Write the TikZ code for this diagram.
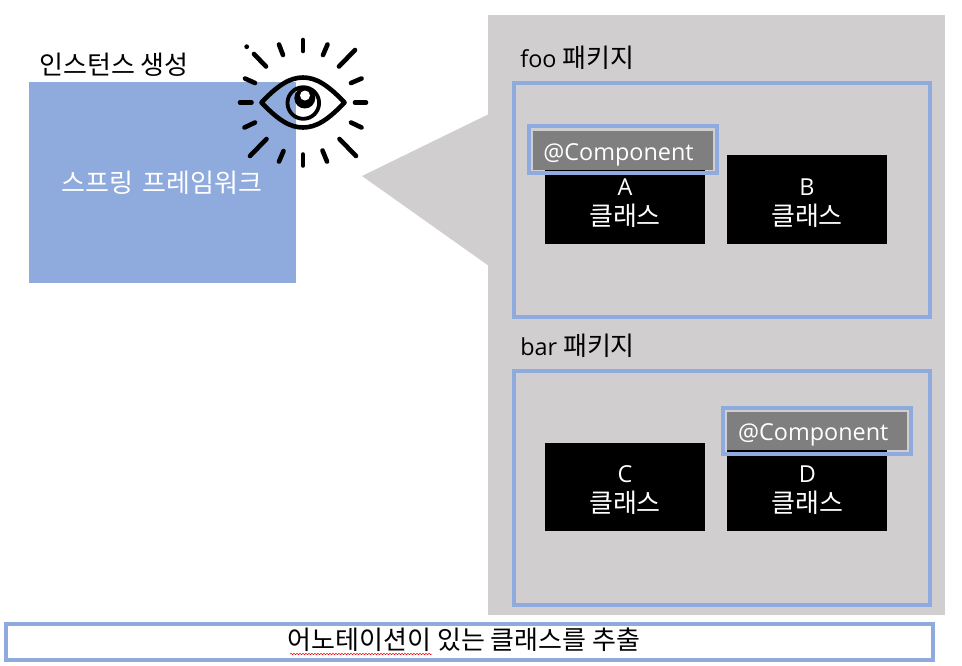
\documentclass[tikz,border=0pt]{standalone}
\usepackage{fontspec}
\setmainfont{Noto Sans CJK KR}
\newfontfamily\latinfont{Open Sans}
\newcommand{\latintext}{\latinfont\fontsize{23.4}{30}\selectfont}
\usetikzlibrary{decorations.pathmorphing}
\definecolor{panelblue}{RGB}{143,170,220}
\definecolor{panelgray}{RGB}{208,206,206}
\definecolor{tagfill}{RGB}{127,127,127}
\tikzset{every picture/.style={line width=0.75pt},
  pkgbox/.style={draw=panelblue,line width=4pt},
  classbox/.style={fill=black},
  tagbox/.style={fill=tagfill},
  rayline/.style={line width=4.6pt,line cap=round},
  labeltext/.style={font=\fontsize{26}{30}\selectfont,inner sep=0pt},
  whitetext/.style={labeltext,text=white,align=center},
  tagtext/.style={whitetext,font=\latintext}}

\begin{document}
\begin{tikzpicture}[x=1pt,y=1pt,yscale=-1,xscale=1]
	\useasboundingbox (0,0) rectangle (962,665);

	%Shape: Rectangle [framework]
	\fill [panelblue] (29,82) rectangle (296,283);
	%Shape: Rectangle [panel]
	\fill [panelgray] (488,15) rectangle (945,615);
	%Shape: Triangle [callout]
	\fill [panelgray] (489,114) -- (362,176) -- (489,266) -- cycle;
	%Shape: Rectangle [packages]
	\draw [pkgbox] (513.5,82.5) rectangle (930,317);
	\draw [pkgbox] (513.5,370.5) rectangle (930,605);
	%Shape: Rectangle [classes]
	\fill [classbox] (545,155) rectangle (705,244);
	\fill [classbox] (727,155) rectangle (887,244);
	\fill [classbox] (545,443) rectangle (705,531);
	\fill [classbox] (727,443) rectangle (887,531);
	%Shape: Rectangle [tags]
	\fill [panelgray] (528,126) rectangle (717,170);
	\fill [tagbox] (533,131) rectangle (713,170);
	\draw [pkgbox] (528.7,126) rectangle (717,173);
	\fill [panelgray] (723,408) rectangle (911,450);
	\fill [tagbox] (727,412) rectangle (907,450);
	\draw [pkgbox] (723,408) rectangle (910.7,454);
	%Shape: Rectangle [result]
	\draw [pkgbox] (6,623.5) rectangle (932.5,660);
	%Shape: Squiggle [spelling mark]
	\draw [red,line width=0.5pt,decorate,decoration={snake,amplitude=0.7pt,segment length=3pt}] (290,654) -- (432,654);

	%Shape: Eye
	\draw [line width=4.6pt,line join=round] (261.5,102.5) .. controls (278,85) and (290,77.5) .. (303,77.5) .. controls (316,77.5) and (328,85) .. (344.5,102.5) .. controls (328,120) and (316,127.5) .. (303,127.5) .. controls (290,127.5) and (278,120) .. (261.5,102.5) -- cycle;
	\draw [line width=3.8pt] (303.3,103) circle (15.8);
	\fill (304.8,98) circle (10.5);
	\fill [white] (305,95.5) circle (5);
	%Shape: Rays
	\draw [rayline] (303,40) -- (303,51);
	\draw [rayline] (279,44.5) -- (283,55);
	\draw [rayline] (327.5,44.5) -- (323,55);
	\draw [rayline] (254,54) -- (266,66.5);
	\draw [rayline] (355,50) -- (339,66.5);
	\draw [rayline] (245,78.5) -- (255,83);
	\draw [rayline] (361.5,78.5) -- (351,83);
	\draw [rayline] (240,102.5) -- (251.5,102.5);
	\draw [rayline] (355,102.5) -- (366,102.5);
	\draw [rayline] (244.5,127.5) -- (255,122.5);
	\draw [rayline] (361.5,127.5) -- (351,122.5);
	\draw [rayline] (250,156) -- (266.5,139);
	\draw [rayline] (356,156) -- (339.5,139);
	\draw [rayline] (279,161.5) -- (283.5,151);
	\draw [rayline] (327,161.5) -- (322.5,150.5);
	\draw [rayline] (303,154.5) -- (303,165.5);
	\fill (246.7,46.7) circle (2.4);

	% Text Node
	\node [labeltext] (create) at (114,65) {인스턴스 생성};
	% Text Node
	\node [whitetext] (framework) at (162,182.5) {스프링\hspace{3pt} 프레임워크};
	% Text Node
	\node [labeltext,anchor=west] (foolabel) at (520,58) {{\latintext foo} 패키지};
	% Text Node
	\node [labeltext,anchor=west] (barlabel) at (520,346) {{\latintext bar} 패키지};
	% Text Node
	\node [tagtext] (tagfoo) at (618.5,155) {@Component};
	% Text Node
	\node [tagtext] (tagbar) at (813.3,434.5) {@Component};
	% Text Node
	\node [whitetext] (classa) at (625,203) {{\latintext A}\\클래스};
	% Text Node
	\node [whitetext] (classb) at (807,203) {{\latintext B}\\클래스};
	% Text Node
	\node [whitetext] (classc) at (625,490) {{\latintext C}\\클래스};
	% Text Node
	\node [whitetext] (classd) at (807.5,490) {{\latintext D}\\클래스};
	% Text Node
	\node [labeltext] (result) at (464,640) {어노테이션이 있는 클래스를 추출};

\end{tikzpicture}
\end{document}
